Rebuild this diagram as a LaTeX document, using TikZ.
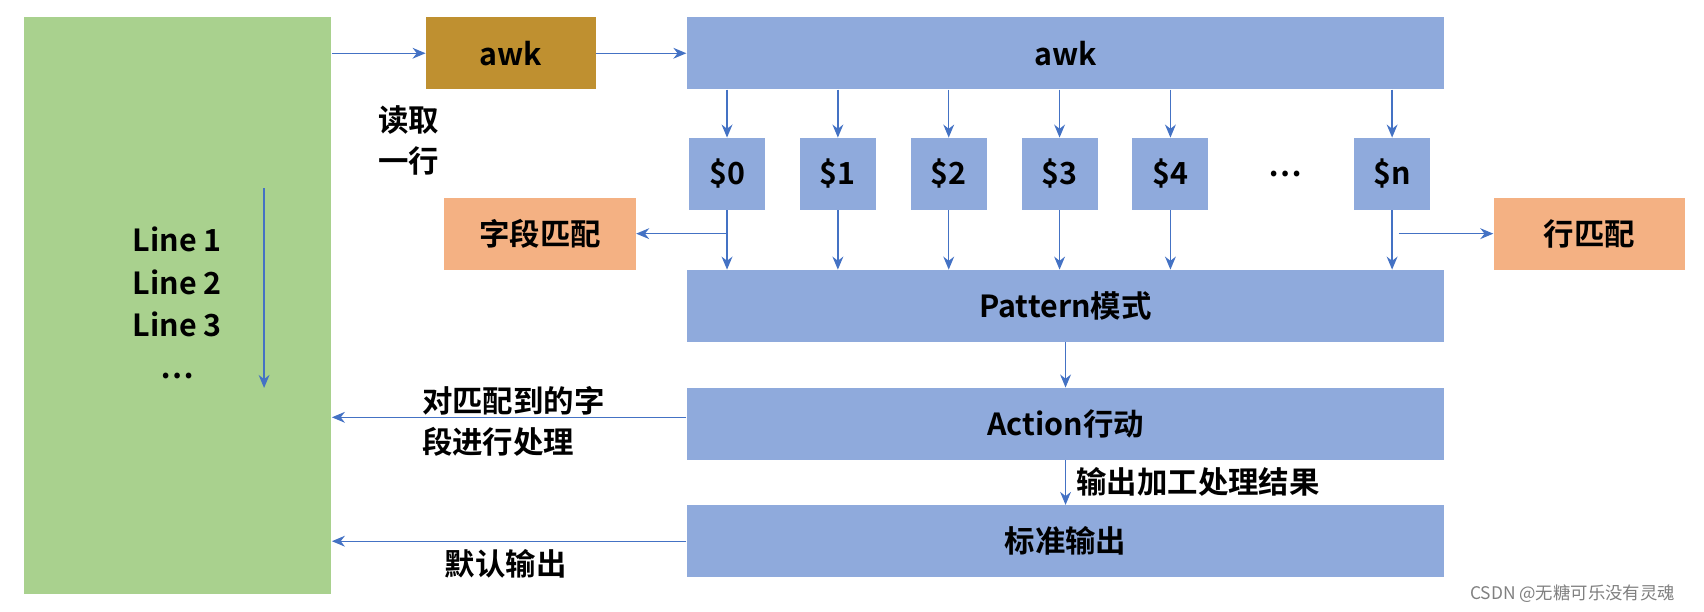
\documentclass[tikz,border=0pt]{standalone}
\usepackage{fontspec}
\setmainfont{Noto Sans CJK SC}[BoldFont={Noto Sans CJK SC Bold}]
\usetikzlibrary{positioning,arrows.meta}
\definecolor{green1}{HTML}{A9D18E}
\definecolor{brown1}{HTML}{BF9030}
\definecolor{blue1}{HTML}{8FAADC}
\definecolor{orange1}{HTML}{F4B183}
\definecolor{arr}{HTML}{4472C4}
\begin{document}
\begin{tikzpicture}[x=0.5pt,y=-0.5pt,
    box/.style={draw=none,inner sep=0pt,font=\bfseries\fontsize{14}{17}\selectfont},
    wide/.style={box,fill=blue1,minimum width=348.5pt,minimum height=33pt},
    field/.style={box,fill=blue1,minimum width=35pt,minimum height=33pt},
    match/.style={box,fill=orange1,minimum width=88pt,minimum height=33pt},
    lbl/.style={font=\bfseries\fontsize{14}{19}\selectfont,align=left,inner sep=0pt},
    link/.style={arr,line width=0.6pt,-{Stealth[length=6pt,width=5pt]}}]
    \useasboundingbox (0,0) rectangle (1568,563);
    \node[box,fill=green1,minimum width=141.5pt,minimum height=265.5pt] (file) at (163.5,281.5) {};
    \node[lbl,align=center,font=\bfseries\fontsize{14}{19.5}\selectfont] (lines) at (163,279) {Line 1\\Line 2\\Line 3\\…};
    \coordinate (top) at (243,173);
    \coordinate (bot) at (243,357);
    \draw[link] (top) -- (bot);
    % awk
    \node[box,fill=brown1,minimum width=78pt,minimum height=33pt] (awk0) at (470,49) {awk};
    \node[wide] (awk) at (980.5,49) {awk};
    \draw[link] (file.east |- awk0) -- (awk0);
    \draw[link] (awk0) -- (awk);
    \node[lbl] (read) at (376,129) {读取\\一行};
    % fields
    \foreach \n/\x in {0/669,1/771,2/873,3/975,4/1077,n/1281}
        \node[field] (f\n) at (\x,160) {\$\n};
    \node[box] (dots) at (1183,160) {…};
    \node[wide] (pat) at (980.5,281.5) {Pattern模式};
    \foreach \n in {0,1,2,3,4,n} {
        \draw[link] (awk.south -| f\n) -- (f\n);
        \draw[link] (f\n) -- (f\n |- pat.north);
    }
    \node[match] (fm) at (497,215) {字段匹配};
    \node[match] (lm) at (1462.5,215) {行匹配};
    \draw[link] (f0.south |- fm) -- (fm);
    \draw[link] ([xshift=3pt]fn.south |- lm) -- (lm);
    % action and output
    \node[wide] (act) at (980.5,390) {Action行动};
    \node[wide] (out) at (980.5,498) {标准输出};
    \draw[link] (pat) -- (act);
    \draw[link] (act) -- (out);
    \draw[link] ([yshift=3pt]act.west) -- ([yshift=3pt]act.west -| file.east);
    \draw[link] (out.west) -- (out.west -| file.east);
    \node[lbl,anchor=west] (proc) at (388,388) {对匹配到的字\\段进行处理};
    \node[lbl,anchor=west] (res) at (990,443) {输出加工处理结果};
    \node[lbl,anchor=west] (dflt) at (409,519) {默认输出};
    \node[font=\fontsize{8}{10}\selectfont,text=gray,inner sep=0pt] (mark) at (1447,546) {CSDN @无糖可乐没有灵魂};
\end{tikzpicture}
\end{document}
